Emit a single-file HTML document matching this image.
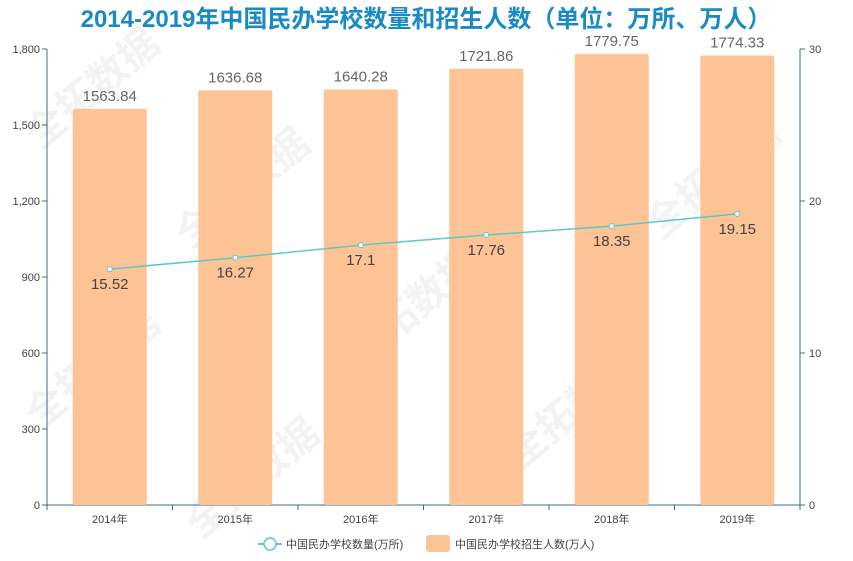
<!DOCTYPE html>
<html><head><meta charset="utf-8"><style>
body{margin:0;background:#fff;}
svg text{font-family:"Liberation Sans","Noto Sans CJK SC",sans-serif;}
</style></head><body>
<svg id="c" width="853" height="556" xmlns="http://www.w3.org/2000/svg">
<text x="426" y="27" text-anchor="middle" font-size="24" font-weight="bold" fill="#1a8ac4">2014-2019年中国民办学校数量和招生人数（单位：万所、万人）</text>
<g id="wm" fill="#000" opacity="0.05" font-size="40" font-weight="bold">
<text transform="translate(40,150) rotate(-40)">全拓数据</text>
<text transform="translate(190,250) rotate(-40)">全拓数据</text>
<text transform="translate(360,370) rotate(-40)">全拓数据</text>
<text transform="translate(520,470) rotate(-40)">全拓数据</text>
<text transform="translate(660,240) rotate(-40)">全拓数据</text>
<text transform="translate(40,430) rotate(-40)">全拓数据</text>
<text transform="translate(200,540) rotate(-40)">全拓数据</text>
</g>
<g id="axes"></g><g id="bars"></g><g id="line"></g>
<g>
<line x1="258" y1="544" x2="282" y2="544" stroke="#5cc9c5" stroke-width="2"/>
<circle cx="270" cy="544" r="6" fill="#fff" stroke="#5cc9c5" stroke-width="1.5"/>
<text x="286" y="548" font-size="11" fill="#444">中国民办学校数量(万所)</text>
<rect x="426" y="535" width="24" height="17" rx="3" fill="#fdc394"/>
<text x="455" y="548" font-size="11" fill="#444">中国民办学校招生人数(万人)</text>
</g>
</svg>
<script>
const categories=["2014年","2015年","2016年","2017年","2018年","2019年"];
const enrollment=[1563.84,1636.68,1640.28,1721.86,1779.75,1774.33];
const schools=[15.52,16.27,17.1,17.76,18.35,19.15];
const leftTicks=[0,300,600,900,1200,1500,1800];
const rightTicks=[0,10,20,30];
const NS="http://www.w3.org/2000/svg";
const L=47,R=800,T=49,B=505;
const band=(R-L)/categories.length;
const x=i=>L+band*(i+0.5);
const yL=v=>B-(v/1800)*(B-T);
const yR=v=>B-(v/30)*(B-T);
function mk(tag,attrs,parent,txt){const e=document.createElementNS(NS,tag);for(const k in attrs)e.setAttribute(k,attrs[k]);if(txt!==undefined)e.textContent=txt;document.getElementById(parent).appendChild(e);return e;}
const ax="#3a7080";
let e;
e=mk("line",{x1:L,y1:T,x2:L,y2:B,stroke:ax},"axes");


e=mk("line",{x1:R,y1:T,x2:R,y2:B,stroke:ax},"axes");


e=mk("line",{x1:L,y1:B,x2:R,y2:B,stroke:ax},"axes");


leftTicks.forEach(v=>{mk("line",{x1:L-5,y1:yL(v),x2:L,y2:yL(v),stroke:ax},"axes");
e=mk("text",{x:L-7,y:yL(v)+4,"text-anchor":"end","font-size":11,fill:"#444"},"axes",v.toLocaleString("en-US"));

});
rightTicks.forEach(v=>{mk("line",{x1:R,y1:yR(v),x2:R+5,y2:yR(v),stroke:ax},"axes");
e=mk("text",{x:R+9,y:yR(v)+4,"font-size":11,fill:"#444"},"axes",String(v));

});
for(let i=0;i<=categories.length;i++)mk("line",{x1:L+band*i,y1:B,x2:L+band*i,y2:B+5,stroke:ax},"axes");
categories.forEach((c,i)=>{e=mk("text",{x:x(i),y:B+18,"text-anchor":"middle","font-size":11,fill:"#444"},"axes",c);

});
enrollment.forEach((v,i)=>{const w=74;
e=mk("rect",{x:x(i)-w/2,y:yL(v),width:w,height:B-yL(v),fill:"#fdc394",rx:2},"bars");


e=mk("text",{x:x(i),y:yL(v)-8,"text-anchor":"middle","font-size":15,fill:"#666"},"bars",String(v));

});
e=mk("polyline",{points:schools.map((v,i)=>x(i)+","+yR(v)).join(" "),fill:"none",stroke:"#5cc9c5","stroke-width":1.5},"line");


schools.forEach((v,i)=>{e=mk("circle",{cx:x(i),cy:yR(v),r:2.5,fill:"#fff",stroke:"#5cc9c5","stroke-width":1},"line");


e=mk("text",{x:x(i),y:yR(v)+20,"text-anchor":"middle","font-size":15,fill:"#444"},"line",String(v));

});
</script>
</body></html>
